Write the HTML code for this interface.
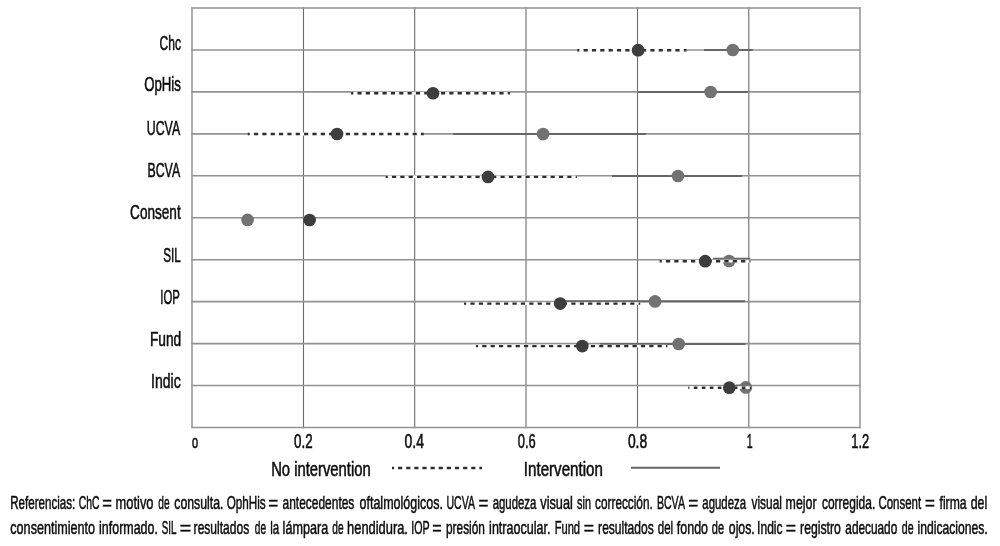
<!DOCTYPE html>
<html><head><meta charset="utf-8"><title>Chart</title>
<style>html,body{margin:0;padding:0;background:#fff;}svg{display:block;will-change:transform;}text{font-family:"Liberation Sans",Arial,sans-serif;fill:#0c0c0c;stroke:#0c0c0c;stroke-width:0.55px;}text.c{stroke-width:0.5px;}</style></head><body>
<svg width="1000" height="546" viewBox="0 0 1000 546">
<rect x="0" y="0" width="1000" height="546" fill="#fff"/>
<g stroke="#6c6c6c" stroke-width="1.1" fill="none">
<line x1="192.00" y1="7.20" x2="192.00" y2="428.30"/>
<line x1="303.50" y1="7.20" x2="303.50" y2="428.30"/>
<line x1="414.70" y1="7.20" x2="414.70" y2="428.30"/>
<line x1="526.00" y1="7.20" x2="526.00" y2="428.30"/>
<line x1="637.50" y1="7.20" x2="637.50" y2="428.30"/>
<line x1="748.80" y1="7.20" x2="748.80" y2="428.30"/>
<line x1="860.00" y1="7.20" x2="860.00" y2="428.30"/>
</g>
<g stroke="#929292" stroke-width="1.6" fill="none">
<line x1="191.40" y1="8.00" x2="860.60" y2="8.00"/>
<line x1="191.40" y1="49.95" x2="860.60" y2="49.95"/>
<line x1="191.40" y1="91.90" x2="860.60" y2="91.90"/>
<line x1="191.40" y1="133.85" x2="860.60" y2="133.85"/>
<line x1="191.40" y1="175.80" x2="860.60" y2="175.80"/>
<line x1="191.40" y1="217.75" x2="860.60" y2="217.75"/>
<line x1="191.40" y1="259.70" x2="860.60" y2="259.70"/>
<line x1="191.40" y1="301.65" x2="860.60" y2="301.65"/>
<line x1="191.40" y1="343.60" x2="860.60" y2="343.60"/>
<line x1="191.40" y1="385.55" x2="860.60" y2="385.55"/>
<line x1="191.40" y1="427.50" x2="860.60" y2="427.50"/>
</g>
<g stroke="#666666" stroke-width="2.0" fill="none">
<line x1="704.00" y1="50.00" x2="752.80" y2="50.00"/>
<line x1="637.80" y1="92.00" x2="747.80" y2="92.00"/>
<line x1="453.20" y1="134.10" x2="645.90" y2="134.10"/>
<line x1="612.00" y1="175.90" x2="742.30" y2="175.90"/>
<line x1="712.90" y1="258.80" x2="750.30" y2="258.80"/>
<line x1="565.00" y1="301.20" x2="745.00" y2="301.20"/>
<line x1="600.20" y1="344.00" x2="745.60" y2="344.00"/>
<line x1="735.60" y1="385.60" x2="749.30" y2="385.60"/>
</g>
<g fill="#727272">
<circle cx="732.80" cy="50.00" r="6.35"/>
<circle cx="710.60" cy="92.00" r="6.35"/>
<circle cx="543.10" cy="134.10" r="6.35"/>
<circle cx="678.00" cy="176.00" r="6.35"/>
<circle cx="247.60" cy="219.90" r="6.35"/>
<circle cx="729.10" cy="261.00" r="6.35"/>
<circle cx="655.00" cy="301.40" r="6.35"/>
<circle cx="678.70" cy="344.00" r="6.35"/>
<circle cx="745.80" cy="387.40" r="6.35"/>
</g>
<line x1="577.20" y1="50.20" x2="686.60" y2="50.20" stroke="#fff" stroke-width="2.8"/>
<line x1="577.20" y1="50.20" x2="686.60" y2="50.20" stroke="#2e2e2e" stroke-width="2.4" stroke-dasharray="4.20 4.15" stroke-dashoffset="2.00"/>
<line x1="351.10" y1="93.25" x2="509.90" y2="93.25" stroke="#fff" stroke-width="2.8"/>
<line x1="351.10" y1="93.25" x2="509.90" y2="93.25" stroke="#2e2e2e" stroke-width="2.4" stroke-dasharray="4.20 4.15" stroke-dashoffset="2.00"/>
<line x1="247.60" y1="134.00" x2="423.80" y2="134.00" stroke="#fff" stroke-width="2.8"/>
<line x1="247.60" y1="134.00" x2="423.80" y2="134.00" stroke="#2e2e2e" stroke-width="2.4" stroke-dasharray="4.20 4.15" stroke-dashoffset="2.00"/>
<line x1="385.60" y1="176.90" x2="576.90" y2="176.90" stroke="#fff" stroke-width="2.8"/>
<line x1="385.60" y1="176.90" x2="576.90" y2="176.90" stroke="#2e2e2e" stroke-width="2.4" stroke-dasharray="4.20 4.15" stroke-dashoffset="2.00"/>
<line x1="659.60" y1="261.20" x2="750.50" y2="261.20" stroke="#fff" stroke-width="2.8"/>
<line x1="659.60" y1="261.20" x2="750.50" y2="261.20" stroke="#2e2e2e" stroke-width="2.4" stroke-dasharray="4.20 4.15" stroke-dashoffset="2.00"/>
<line x1="464.00" y1="303.60" x2="640.20" y2="303.60" stroke="#fff" stroke-width="2.8"/>
<line x1="464.00" y1="303.60" x2="640.20" y2="303.60" stroke="#2e2e2e" stroke-width="2.4" stroke-dasharray="4.20 4.21" stroke-dashoffset="2.00"/>
<line x1="475.90" y1="346.10" x2="667.40" y2="346.10" stroke="#fff" stroke-width="2.8"/>
<line x1="475.90" y1="346.10" x2="667.40" y2="346.10" stroke="#2e2e2e" stroke-width="2.4" stroke-dasharray="4.20 4.15" stroke-dashoffset="2.00"/>
<line x1="688.30" y1="387.70" x2="751.50" y2="387.70" stroke="#fff" stroke-width="2.8"/>
<line x1="688.30" y1="387.70" x2="751.50" y2="387.70" stroke="#2e2e2e" stroke-width="2.4" stroke-dasharray="3.60 4.40" stroke-dashoffset="2.50"/>
<g fill="#3d3d3d">
<circle cx="638.10" cy="50.20" r="6.35"/>
<circle cx="433.00" cy="93.25" r="6.35"/>
<circle cx="337.05" cy="134.00" r="6.35"/>
<circle cx="488.00" cy="176.90" r="6.35"/>
<circle cx="309.60" cy="220.00" r="6.35"/>
<circle cx="705.20" cy="261.20" r="6.35"/>
<circle cx="560.20" cy="303.60" r="6.35"/>
<circle cx="582.30" cy="346.10" r="6.35"/>
<circle cx="729.30" cy="387.70" r="6.35"/>
</g>
<text x="159.59" y="49.60" font-size="19.80" textLength="21.42" lengthAdjust="spacingAndGlyphs">Chc</text>
<text x="144.23" y="91.30" font-size="19.80" textLength="36.65" lengthAdjust="spacingAndGlyphs">OpHis</text>
<text x="146.78" y="134.70" font-size="19.80" textLength="33.41" lengthAdjust="spacingAndGlyphs">UCVA</text>
<text x="147.48" y="177.20" font-size="19.80" textLength="32.65" lengthAdjust="spacingAndGlyphs">BCVA</text>
<text x="130.11" y="219.00" font-size="19.80" textLength="50.57" lengthAdjust="spacingAndGlyphs">Consent</text>
<text x="163.21" y="261.50" font-size="19.80" textLength="17.51" lengthAdjust="spacingAndGlyphs">SIL</text>
<text x="160.33" y="304.00" font-size="19.80" textLength="19.52" lengthAdjust="spacingAndGlyphs">IOP</text>
<text x="149.90" y="345.70" font-size="19.80" textLength="31.36" lengthAdjust="spacingAndGlyphs">Fund</text>
<text x="151.09" y="388.40" font-size="19.80" textLength="29.67" lengthAdjust="spacingAndGlyphs">Indic</text>
<text x="191.90" y="447.70" font-size="14.50" textLength="6.06" lengthAdjust="spacingAndGlyphs">0</text>
<text x="294.00" y="447.60" font-size="19.50" textLength="18.57" lengthAdjust="spacingAndGlyphs">0.2</text>
<text x="404.50" y="447.60" font-size="19.50" textLength="19.38" lengthAdjust="spacingAndGlyphs">0.4</text>
<text x="517.80" y="447.60" font-size="19.50" textLength="17.97" lengthAdjust="spacingAndGlyphs">0.6</text>
<text x="627.90" y="447.60" font-size="19.50" textLength="19.28" lengthAdjust="spacingAndGlyphs">0.8</text>
<text x="746.66" y="447.60" font-size="19.50" textLength="5.91" lengthAdjust="spacingAndGlyphs">1</text>
<text x="851.24" y="447.60" font-size="19.50" textLength="17.93" lengthAdjust="spacingAndGlyphs">1.2</text>
<text x="271.16" y="476.30" font-size="19.90" textLength="99.54" lengthAdjust="spacingAndGlyphs">No intervention</text>
<text x="523.84" y="476.20" font-size="19.90" textLength="78.98" lengthAdjust="spacingAndGlyphs">Intervention</text>
<text class="c" x="10.15" y="508.60" font-size="17.80" textLength="65.09" lengthAdjust="spacingAndGlyphs">Referencias:</text>
<text class="c" x="78.71" y="508.60" font-size="17.80" textLength="20.82" lengthAdjust="spacingAndGlyphs">ChC</text>
<text class="c" x="102.37" y="508.60" font-size="17.80" textLength="9.70" lengthAdjust="spacingAndGlyphs">=</text>
<text class="c" x="115.58" y="508.60" font-size="17.80" textLength="37.89" lengthAdjust="spacingAndGlyphs">motivo</text>
<text class="c" x="158.30" y="508.60" font-size="17.80" textLength="11.28" lengthAdjust="spacingAndGlyphs">de</text>
<text class="c" x="174.30" y="508.60" font-size="17.80" textLength="49.21" lengthAdjust="spacingAndGlyphs">consulta.</text>
<text class="c" x="226.64" y="508.60" font-size="17.80" textLength="39.05" lengthAdjust="spacingAndGlyphs">OphHis</text>
<text class="c" x="268.34" y="508.60" font-size="17.80" textLength="9.93" lengthAdjust="spacingAndGlyphs">=</text>
<text class="c" x="282.50" y="508.60" font-size="17.80" textLength="71.85" lengthAdjust="spacingAndGlyphs">antecedentes</text>
<text class="c" x="359.50" y="508.60" font-size="17.80" textLength="83.43" lengthAdjust="spacingAndGlyphs">oftalmológicos.</text>
<text class="c" x="446.51" y="508.60" font-size="17.80" textLength="28.45" lengthAdjust="spacingAndGlyphs">UCVA</text>
<text class="c" x="478.54" y="508.60" font-size="17.80" textLength="9.93" lengthAdjust="spacingAndGlyphs">=</text>
<text class="c" x="492.70" y="508.60" font-size="17.80" textLength="43.71" lengthAdjust="spacingAndGlyphs">agudeza</text>
<text class="c" x="540.30" y="508.60" font-size="17.80" textLength="32.54" lengthAdjust="spacingAndGlyphs">visual</text>
<text class="c" x="577.10" y="508.60" font-size="17.80" textLength="13.85" lengthAdjust="spacingAndGlyphs">sin</text>
<text class="c" x="595.10" y="508.60" font-size="17.80" textLength="57.64" lengthAdjust="spacingAndGlyphs">corrección.</text>
<text class="c" x="656.90" y="508.60" font-size="17.80" textLength="28.06" lengthAdjust="spacingAndGlyphs">BCVA</text>
<text class="c" x="688.14" y="508.60" font-size="17.80" textLength="9.93" lengthAdjust="spacingAndGlyphs">=</text>
<text class="c" x="702.30" y="508.60" font-size="17.80" textLength="43.71" lengthAdjust="spacingAndGlyphs">agudeza</text>
<text class="c" x="751.50" y="508.60" font-size="17.80" textLength="30.51" lengthAdjust="spacingAndGlyphs">visual</text>
<text class="c" x="785.60" y="508.60" font-size="17.80" textLength="30.93" lengthAdjust="spacingAndGlyphs">mejor</text>
<text class="c" x="821.90" y="508.60" font-size="17.80" textLength="53.33" lengthAdjust="spacingAndGlyphs">corregida.</text>
<text class="c" x="878.45" y="508.60" font-size="17.80" textLength="42.75" lengthAdjust="spacingAndGlyphs">Consent</text>
<text class="c" x="924.94" y="508.60" font-size="17.80" textLength="9.93" lengthAdjust="spacingAndGlyphs">=</text>
<text class="c" x="939.50" y="508.60" font-size="17.80" textLength="27.07" lengthAdjust="spacingAndGlyphs">firma</text>
<text class="c" x="970.70" y="508.60" font-size="17.80" textLength="16.51" lengthAdjust="spacingAndGlyphs">del</text>
<text class="c" x="10.30" y="534.30" font-size="17.80" textLength="84.83" lengthAdjust="spacingAndGlyphs">consentimiento</text>
<text class="c" x="99.10" y="534.30" font-size="17.80" textLength="58.81" lengthAdjust="spacingAndGlyphs">informado.</text>
<text class="c" x="161.75" y="534.30" font-size="17.80" textLength="14.79" lengthAdjust="spacingAndGlyphs">SIL</text>
<text class="c" x="179.70" y="534.30" font-size="17.80" textLength="11.43" lengthAdjust="spacingAndGlyphs">=</text>
<text class="c" x="193.62" y="534.30" font-size="17.80" textLength="55.61" lengthAdjust="spacingAndGlyphs">resultados</text>
<text class="c" x="254.80" y="534.30" font-size="17.80" textLength="11.28" lengthAdjust="spacingAndGlyphs">de</text>
<text class="c" x="270.15" y="534.30" font-size="17.80" textLength="8.95" lengthAdjust="spacingAndGlyphs">la</text>
<text class="c" x="282.59" y="534.30" font-size="17.80" textLength="45.58" lengthAdjust="spacingAndGlyphs">lámpara</text>
<text class="c" x="332.30" y="534.30" font-size="17.80" textLength="11.28" lengthAdjust="spacingAndGlyphs">de</text>
<text class="c" x="347.08" y="534.30" font-size="17.80" textLength="60.88" lengthAdjust="spacingAndGlyphs">hendidura.</text>
<text class="c" x="411.20" y="534.30" font-size="17.80" textLength="18.38" lengthAdjust="spacingAndGlyphs">IOP</text>
<text class="c" x="432.19" y="534.30" font-size="17.80" textLength="9.47" lengthAdjust="spacingAndGlyphs">=</text>
<text class="c" x="446.03" y="534.30" font-size="17.80" textLength="38.89" lengthAdjust="spacingAndGlyphs">presión</text>
<text class="c" x="489.10" y="534.30" font-size="17.80" textLength="61.30" lengthAdjust="spacingAndGlyphs">intraocular.</text>
<text class="c" x="554.67" y="534.30" font-size="17.80" textLength="25.36" lengthAdjust="spacingAndGlyphs">Fund</text>
<text class="c" x="583.81" y="534.30" font-size="17.80" textLength="10.28" lengthAdjust="spacingAndGlyphs">=</text>
<text class="c" x="598.12" y="534.30" font-size="17.80" textLength="55.61" lengthAdjust="spacingAndGlyphs">resultados</text>
<text class="c" x="657.80" y="534.30" font-size="17.80" textLength="15.38" lengthAdjust="spacingAndGlyphs">del</text>
<text class="c" x="676.80" y="534.30" font-size="17.80" textLength="31.25" lengthAdjust="spacingAndGlyphs">fondo</text>
<text class="c" x="711.80" y="534.30" font-size="17.80" textLength="12.26" lengthAdjust="spacingAndGlyphs">de</text>
<text class="c" x="728.80" y="534.30" font-size="17.80" textLength="25.98" lengthAdjust="spacingAndGlyphs">ojos.</text>
<text class="c" x="757.12" y="534.30" font-size="17.80" textLength="25.46" lengthAdjust="spacingAndGlyphs">Indic</text>
<text class="c" x="785.81" y="534.30" font-size="17.80" textLength="10.28" lengthAdjust="spacingAndGlyphs">=</text>
<text class="c" x="800.11" y="534.30" font-size="17.80" textLength="40.79" lengthAdjust="spacingAndGlyphs">registro</text>
<text class="c" x="845.30" y="534.30" font-size="17.80" textLength="51.98" lengthAdjust="spacingAndGlyphs">adecuado</text>
<text class="c" x="901.80" y="534.30" font-size="17.80" textLength="11.77" lengthAdjust="spacingAndGlyphs">de</text>
<text class="c" x="917.62" y="534.30" font-size="17.80" textLength="70.14" lengthAdjust="spacingAndGlyphs">indicaciones.</text>
<line x1="392" y1="468" x2="482" y2="468" stroke="#2e2e2e" stroke-width="2.4" stroke-dasharray="4.2 3.93" stroke-dashoffset="2.1"/>
<line x1="631" y1="467.8" x2="720" y2="467.8" stroke="#666666" stroke-width="2"/>
</svg>
</body></html>
